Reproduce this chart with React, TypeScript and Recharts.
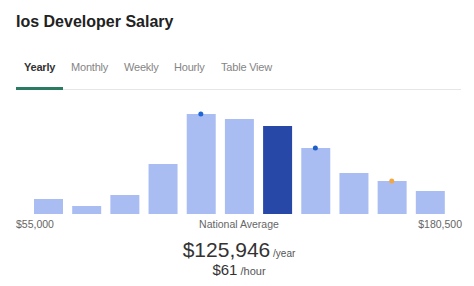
import { Bar, Cell, ComposedChart, Scatter, XAxis, YAxis } from "recharts"

const buckets = ["b1", "b2", "b3", "b4", "b5", "b6", "b7", "b8", "b9", "b10", "b11"]
const counts = [15, 8, 19, 50, 100, 95, 88, 66, 41, 33, 23]
const averageIndex = 6
const markerIndexes = [4, 7, 9]
const markerColors = ["#1f66d6", "#1f5fc8", "#f4a640"]

const tabs = ["Yearly", "Monthly", "Weekly", "Hourly", "Table View"]
const tabX = [24, 71, 124, 174, 221]
const minLabel = "$55,000"
const maxLabel = "$180,500"
const averageLabel = "National Average"
const yearly = "$125,946"
const hourly = "$61"

const data = buckets.map((name, i) => {
    const m = markerIndexes.indexOf(i)
    return {
        name,
        count: counts[i],
        marker: m >= 0 ? counts[i] : null,
        markerColor: m >= 0 ? markerColors[m] : "none",
    }
})

const font = "'Liberation Sans', Arial, sans-serif"

const MarkerDot = (props: any) => {
    const { cx, cy, payload } = props
    if (payload.marker == null) return <g />
    return <circle cx={cx} cy={cy} r={2.5} fill={payload.markerColor} />
}

export default function App() {
    return (
        <div
            style={{
                position: "absolute",
                left: 0,
                top: 0,
                width: 474,
                height: 286,
                background: "#fff",
                fontFamily: font,
                overflow: "hidden",
            }}
        >
            <div
                style={{
                    position: "absolute",
                    left: 16,
                    top: 13,
                    fontSize: 16,
                    fontWeight: 700,
                    color: "#222",
                    whiteSpace: "nowrap",
                }}
            >
                Ios Developer Salary
            </div>
            {tabs.map((t, i) => (
                <div
                    key={t}
                    style={{
                        position: "absolute",
                        left: tabX[i],
                        top: 61,
                        fontSize: 11,
                        letterSpacing: -0.2,
                        fontWeight: i === 0 ? 700 : 400,
                        color: i === 0 ? "#333" : "#858585",
                        whiteSpace: "nowrap",
                    }}
                >
                    {t}
                </div>
            ))}
            <div
                style={{
                    position: "absolute",
                    left: 16,
                    top: 89,
                    width: 445,
                    height: 1,
                    background: "#e6e6e6",
                }}
            />
            <div
                style={{
                    position: "absolute",
                    left: 16,
                    top: 87,
                    width: 47,
                    height: 3,
                    background: "#2b7a62",
                }}
            />
            <div style={{ position: "absolute", left: 0, top: 100 }}>
                <ComposedChart
                    width={474}
                    height={114}
                    data={data}
                    margin={{ top: 14, right: 25, bottom: 0, left: 29 }}
                >
                    <XAxis dataKey="name" hide />
                    <YAxis hide domain={[0, 100]} />
                    <Bar dataKey="count" barSize={29} isAnimationActive={false}>
                        {data.map((d, i) => (
                            <Cell
                                key={d.name}
                                fill={i === averageIndex ? "#2748a6" : "#a9bdf3"}
                            />
                        ))}
                    </Bar>
                    <Scatter
                        dataKey="marker"
                        shape={<MarkerDot />}
                        isAnimationActive={false}
                    />
                </ComposedChart>
            </div>
            <div
                style={{
                    position: "absolute",
                    left: 16,
                    top: 218,
                    fontSize: 10.5,
                    color: "#666",
                }}
            >
                {minLabel}
            </div>
            <div
                style={{
                    position: "absolute",
                    left: 139,
                    width: 200,
                    textAlign: "center",
                    top: 218,
                    fontSize: 10.5,
                    color: "#666",
                }}
            >
                {averageLabel}
            </div>
            <div
                style={{
                    position: "absolute",
                    right: 12,
                    top: 218,
                    fontSize: 10.5,
                    color: "#666",
                }}
            >
                {maxLabel}
            </div>
            <div
                style={{
                    position: "absolute",
                    left: 89,
                    width: 300,
                    textAlign: "center",
                    top: 238,
                    color: "#333",
                    whiteSpace: "nowrap",
                    lineHeight: "24px",
                }}
            >
                <span style={{ fontSize: 21 }}>{yearly}</span>
                <span style={{ fontSize: 10, color: "#555" }}> /year</span>
            </div>
            <div
                style={{
                    position: "absolute",
                    left: 89,
                    width: 300,
                    textAlign: "center",
                    top: 261,
                    color: "#333",
                    whiteSpace: "nowrap",
                    lineHeight: "18px",
                }}
            >
                <span style={{ fontSize: 15 }}>{hourly}</span>
                <span style={{ fontSize: 11, color: "#555" }}> /hour</span>
            </div>
        </div>
    )
}
